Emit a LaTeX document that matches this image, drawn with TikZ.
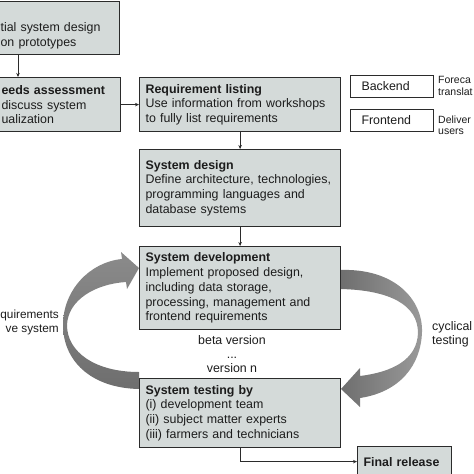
\documentclass[tikz,border=0pt]{standalone}
\usepackage{fontspec}
\setmainfont{Liberation Sans}
\usetikzlibrary{arrows.meta}
\definecolor{boxfill}{HTML}{D4DAD9}
\definecolor{boxline}{HTML}{2B2B2B}
\definecolor{inkc}{HTML}{1C1C1C}
\definecolor{loopdark}{HTML}{6E6E6E}
\definecolor{looplight}{HTML}{9A9A9A}

\begin{document}
\begin{tikzpicture}[x=1pt,y=-1pt]
\tikzstyle{stage}=[draw=boxline,fill=boxfill,line width=1.2pt,anchor=north west,align=left,inner xsep=6pt,inner ysep=0pt,text width=189pt,text=inkc,font=\fontsize{12.4}{14.7}\selectfont]
\tikzstyle{side}=[stage,fill=white,line width=1pt,inner xsep=11pt,text width=61pt,minimum height=22pt]
\tikzstyle{note}=[text=inkc,inner sep=0pt,font=\fontsize{12.4}{14}\selectfont]
\tikzstyle{small}=[note,anchor=west,align=left,font=\fontsize{10.5}{11.5}\selectfont]
\tikzstyle{conn}=[draw=boxline,line width=0.8pt,-{Stealth[length=4pt,width=3.5pt]}]
\useasboundingbox (0,0) rectangle (474,474);

% cyclical arrows (behind the boxes)
\shade[top color=looplight!90!black,bottom color=loopdark] (139,389) .. controls (90,388) and (63,360) .. (63,325) .. controls (63,290) and (90,262) .. (122,259) -- (121,252) -- (139,268) -- (127,289) -- (126,282) .. controls (95,284) and (68,300) .. (67,325) .. controls (67,352) and (95,372) .. (139,372) -- cycle;
\shade[left color=loopdark,right color=looplight] (340,270) .. controls (395,268) and (423,300) .. (422,332) .. controls (421,365) and (400,392) .. (360,398) -- (360,407) -- (341,389) -- (360,368) -- (360,376) .. controls (392,372) and (417,360) .. (418,333) .. controls (418,305) and (390,290) .. (340,289) -- cycle;

% stages
\node[stage,text width=113pt,minimum height=53pt] (initial) at (-6,1) {\strut\\tial system design\\on prototypes};
\node[stage,text width=113pt,minimum height=54pt] (needs) at (-5,77) {\textbf{eeds assessment}\\discuss system\\ualization};
\node[stage,minimum height=54pt] (req) at (139,77) {\textbf{Requirement listing}\\Use information from workshops\\to fully list requirements};
\node[stage,minimum height=77pt] (design) at (139,149) {\textbf{System design}\\Define architecture, technologies,\\programming languages and\\database systems};
\node[stage,minimum height=83pt] (dev) at (139,246) {\textbf{System development}\\Implement proposed design,\\including data storage,\\processing, management and\\frontend requirements};
\node[stage,minimum height=69pt] (testing) at (139,378) {\textbf{System testing by}\\(i) development team\\(ii) subject matter experts\\(iii) farmers and technicians};
\node[stage,text width=82pt,minimum height=30pt] (final) at (357,446) {\textbf{Final release}};

% legend boxes
\node[side] (backend) at (350,75) {Backend};
\node[side] (frontend) at (350,109) {Frontend};
\node[small] (backnote) at (438,86) {Foreca\\translat};
\node[small] (frontnote) at (438,125) {Deliver\\users};

% labels
\node[note,anchor=east,align=right,font=\fontsize{11.8}{14}\selectfont] (improve) at (59,322) {quirements\\ve system};
\node[note,anchor=west,align=left] (cyclic) at (432,334) {cyclical\\testing};
\node[note,align=center] (versions) at (232,354) {beta version\\...\\version n};

% connectors
\draw[conn] ([xshift=24pt]initial.south west) -- ([xshift=23pt]needs.north west);
\draw[conn] (needs.east) -- (req.west);
\draw[conn] (req.south) -- (design.north);
\draw[conn] (design.south) -- (dev.north);
\draw[conn] (testing.south) |- (final.west);
\end{tikzpicture}
\end{document}
